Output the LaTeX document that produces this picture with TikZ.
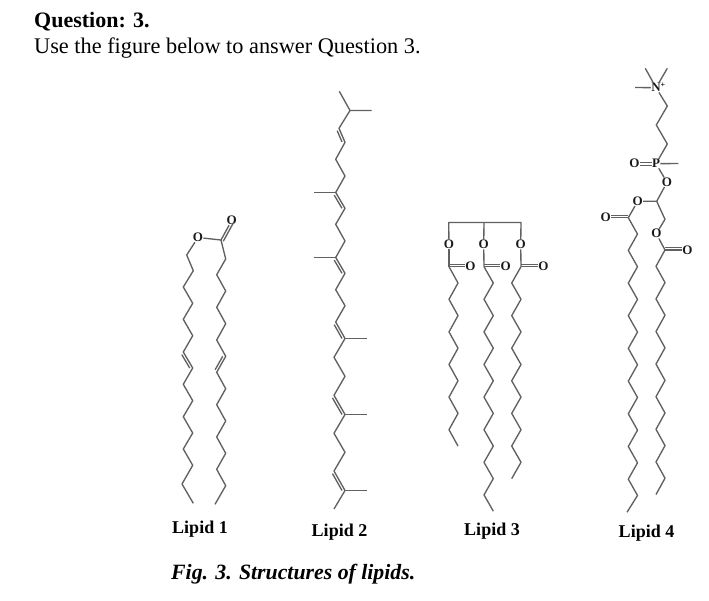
\documentclass[tikz,border=0pt]{standalone}
\usepackage{fontspec}
\setmainfont{Liberation Serif}
\usetikzlibrary{calc}
\tikzset{
  bond/.style={draw=black!62,line width=1.35pt,line join=round},
  atom/.style={font=\fontsize{13}{14}\selectfont\bfseries,inner sep=0.2pt,text=black!90},
  heading/.style={anchor=base west,inner sep=0pt,font=\fontsize{22.3}{24}\selectfont,text=black},
  lipidname/.style={anchor=base,inner sep=0pt,font=\fontsize{18}{20}\selectfont\bfseries,text=black},
}
% second line of a double bond; #3 = +1 or -1 selects the side
\newcommand{\dblbond}[3]{\draw[bond,shorten <=1.5pt,shorten >=1.5pt]
  ($(#1)!2.6pt!#3*90:(#2)$) -- ($(#2)!2.6pt!#3*-90:(#1)$);}
\begin{document}
\begin{tikzpicture}[x=1pt,y=-1pt]
\useasboundingbox (0,0) rectangle (709,600);
% ---- texts
\node[heading,font=\fontsize{22}{24}\selectfont\bfseries] (q) at (34,27.5) {Question: 3.};
\node[heading] (use) at (34,53.5) {Use the figure below to answer Question 3.};
\node[lipidname] (l1) at (200,533) {Lipid 1};
\node[lipidname] (l2) at (339.5,536) {Lipid 2};
\node[lipidname] (l3) at (492,535) {Lipid 3};
\node[lipidname] (l4) at (646.5,537) {Lipid 4};
\node[heading,font=\fontsize{21.8}{24}\selectfont\bfseries\itshape] (cap) at (171,579) {Fig. 3. Structures of lipids.};

% ---- Lipid 1
\node[atom] (a1o) at (198,237.5) {O};
\node[atom] (a1k) at (231.7,220.5) {O};
\coordinate (a1c) at (221,240);
\coordinate (a1d1) at (183.3,352); \coordinate (a1d2) at (192.7,368);
\coordinate (a1e1) at (225.7,356.3); \coordinate (a1e2) at (216.7,372.3);
\draw[bond] (a1o) -- (a1c);
\draw[bond] (a1o) -- (186.7,255) -- (193.3,270.7) -- (183.3,287) -- (192.7,303.3) -- (183.3,319.3) -- (192.7,335.7) -- (a1d1) -- (a1d2) -- (183.3,384.3) -- (192.7,400.7) -- (183.3,416.7) -- (192.7,433) -- (183.3,449) -- (192.7,465.3) -- (182,484) -- (193.3,503.3);
\draw[bond] (a1c) -- (225.7,259) -- (216.7,274.7) -- (225.7,291) -- (216.7,307.3) -- (225.7,323.7) -- (216.7,340) -- (a1e1) -- (a1e2) -- (225.7,388.7) -- (216.7,404.7) -- (225.7,421) -- (216.7,437) -- (225.7,453.3) -- (216.7,469.3) -- (225.7,485.7) -- (215,504.3);
\draw[bond] (a1c) -- (a1k);
\draw[bond] ($(a1c)!2.6pt!-90:(a1k)$) -- ($(a1k)!2.6pt!90:(a1c)$);
\dblbond{a1d1}{a1d2}{-1}
\dblbond{a1e1}{a1e2}{-1}

% ---- Lipid 2
\coordinate (b1) at (350,110.5);
\coordinate (b2) at (339,128.3); \coordinate (b3) at (345,142.3);
\coordinate (b4) at (335.7,192.5); \coordinate (b5) at (345,208.3);
\coordinate (b6) at (335.7,257.5); \coordinate (b7) at (345,273.3);
\coordinate (b8) at (335.7,322); \coordinate (b9) at (345,338.5);
\coordinate (b10) at (334,395.3); \coordinate (b11) at (345,414.5);
\coordinate (b12) at (334,471); \coordinate (b13) at (345,490.5);
\coordinate (m1) at (371.7,110.5);
\coordinate (m2) at (313.7,192.5);
\coordinate (m3) at (313.7,257.5);
\coordinate (m4) at (366.7,338.5);
\coordinate (m5) at (366.7,414.5);
\coordinate (m6) at (366.7,490.5);
\draw[bond] (339.3,91.3) -- (b1) -- (m1);
\draw[bond] (b1) -- (b2) -- (b3) -- (335.7,159.3) -- (345,176) -- (b4) -- (b5) -- (335.7,224.3) -- (345,241) -- (b6) -- (b7) -- (335.7,289.7) -- (345,305.7) -- (b8) -- (b9) -- (334,357.3) -- (345,376.3) -- (b10) -- (b11) -- (334,433.3) -- (345,452.3) -- (b12) -- (b13) -- (334,509);
\draw[bond] (b4) -- (m2);
\draw[bond] (b6) -- (m3);
\draw[bond] (b9) -- (m4);
\draw[bond] (b11) -- (m5);
\draw[bond] (b13) -- (m6);
\dblbond{b2}{b3}{-1}
\dblbond{b4}{b5}{-1}
\dblbond{b6}{b7}{-1}
\dblbond{b8}{b9}{-1}
\dblbond{b10}{b11}{-1}
\dblbond{b12}{b13}{-1}

% ---- Lipid 3
\coordinate (g1) at (448.7,222.5);
\coordinate (g2) at (484,222.5);
\coordinate (g3) at (521,222.5);
\node[atom] (c1o) at (449,244.7) {O};
\node[atom] (c2o) at (483.7,244.7) {O};
\node[atom] (c3o) at (520.7,244.7) {O};
\coordinate (c1c) at (449,266.7);
\coordinate (c2c) at (484,266.7);
\coordinate (c3c) at (521,266.7);
\node[atom] (c1k) at (470.3,266.7) {O};
\node[atom] (c2k) at (505.7,266.7) {O};
\node[atom] (c3k) at (543.3,266.7) {O};
\draw[bond] (c1o) -- (g1) -- (g2) -- (g3) -- (c3o);
\draw[bond] (g2) -- (c2o);
\draw[bond] (c1o) -- (c1c);
\draw[bond] (c2o) -- (c2c);
\draw[bond] (c3o) -- (c3c);
\foreach \c/\k in {c1c/c1k,c2c/c2k,c3c/c3k}{
  \draw[bond] (\c) -- (\k);
  \draw[bond] ($(\c)+(0,-2.4)$) -- ($(\k.west)+(0,-2.4)$);
}
\draw[bond] (c1c) foreach \i in {1,...,5}{ -- ++(9,16.3) -- ++(-9,16.3)} -- ++(9,16.3);
\draw[bond] (c2c) foreach \i in {1,...,7}{ -- ++(9.3,16.3) -- ++(-9.3,16.3)} -- ++(9.3,16.3);
\draw[bond] (c3c) foreach \i in {1,...,6}{ -- ++(-9.3,16.3) -- ++(9.3,16.3)} -- ++(-9.3,16.3);

% ---- Lipid 4
\node[atom,inner sep=0.3pt] (n) at (656,87.7) {N};
\node[inner sep=0pt,font=\fontsize{8}{9}\selectfont\bfseries] (nplus) at (662.8,85) {+};
\node[atom] (p) at (656,163.7) {P};
\node[atom] (pk) at (634.3,163.7) {O};
\node[atom] (po) at (667,182.3) {O};
\node[atom] (e1) at (637.7,201.3) {O};
\node[atom] (e1k) at (605.7,217.7) {O};
\node[atom] (e2) at (656.3,233.7) {O};
\node[atom] (e2k) at (687.3,250) {O};
\coordinate (gc) at (656.7,201.3);
\coordinate (gd) at (665,219.3);
\coordinate (d1c) at (628.3,217.7);
\coordinate (d2c) at (665,250);
\coordinate (me1) at (635,87.5);
\coordinate (me2) at (645.3,68.3);
\coordinate (me3) at (667.3,68.3);
\coordinate (me4) at (678.3,163.5);
\draw[bond] (n) -- (me1);
\draw[bond] (n) -- (me2);
\draw[bond] (n) -- (me3);
\draw[bond] (n) -- (667.3,106) -- (656.3,125) -- (667.3,144) -- (p);
\draw[bond] (p) -- (me4);
\draw[bond] ($(p.west)+(0,-1.5)$) -- ($(pk.east)+(0,-1.5)$);
\draw[bond] ($(p.west)+(0,1.5)$) -- ($(pk.east)+(0,1.5)$);
\draw[bond] (p) -- (po);
\draw[bond] (po) -- (gc) -- (e1);
\draw[bond] (gc) -- (gd) -- (e2);
\draw[bond] (e1) -- (d1c);
\draw[bond] (e2) -- (d2c);
\draw[bond] (d1c) -- (e1k);
\draw[bond] ($(d1c)+(0,-2.4)$) -- ($(e1k.east)+(0,-2.4)$);
\draw[bond] (d2c) -- (e2k);
\draw[bond] ($(d2c)+(0,-2.4)$) -- ($(e2k.west)+(0,-2.4)$);
\draw[bond] (d1c) foreach \i in {1,...,8}{ -- ++(9.2,16.34) -- ++(-9.2,16.34)} -- ++(9.2,16.3) -- (627,512.3);
\draw[bond] (d2c) foreach \i in {1,...,7}{ -- ++(-9,16.3) -- ++(9,16.3)} -- ++(-9,16.3);
\end{tikzpicture}
\end{document}
